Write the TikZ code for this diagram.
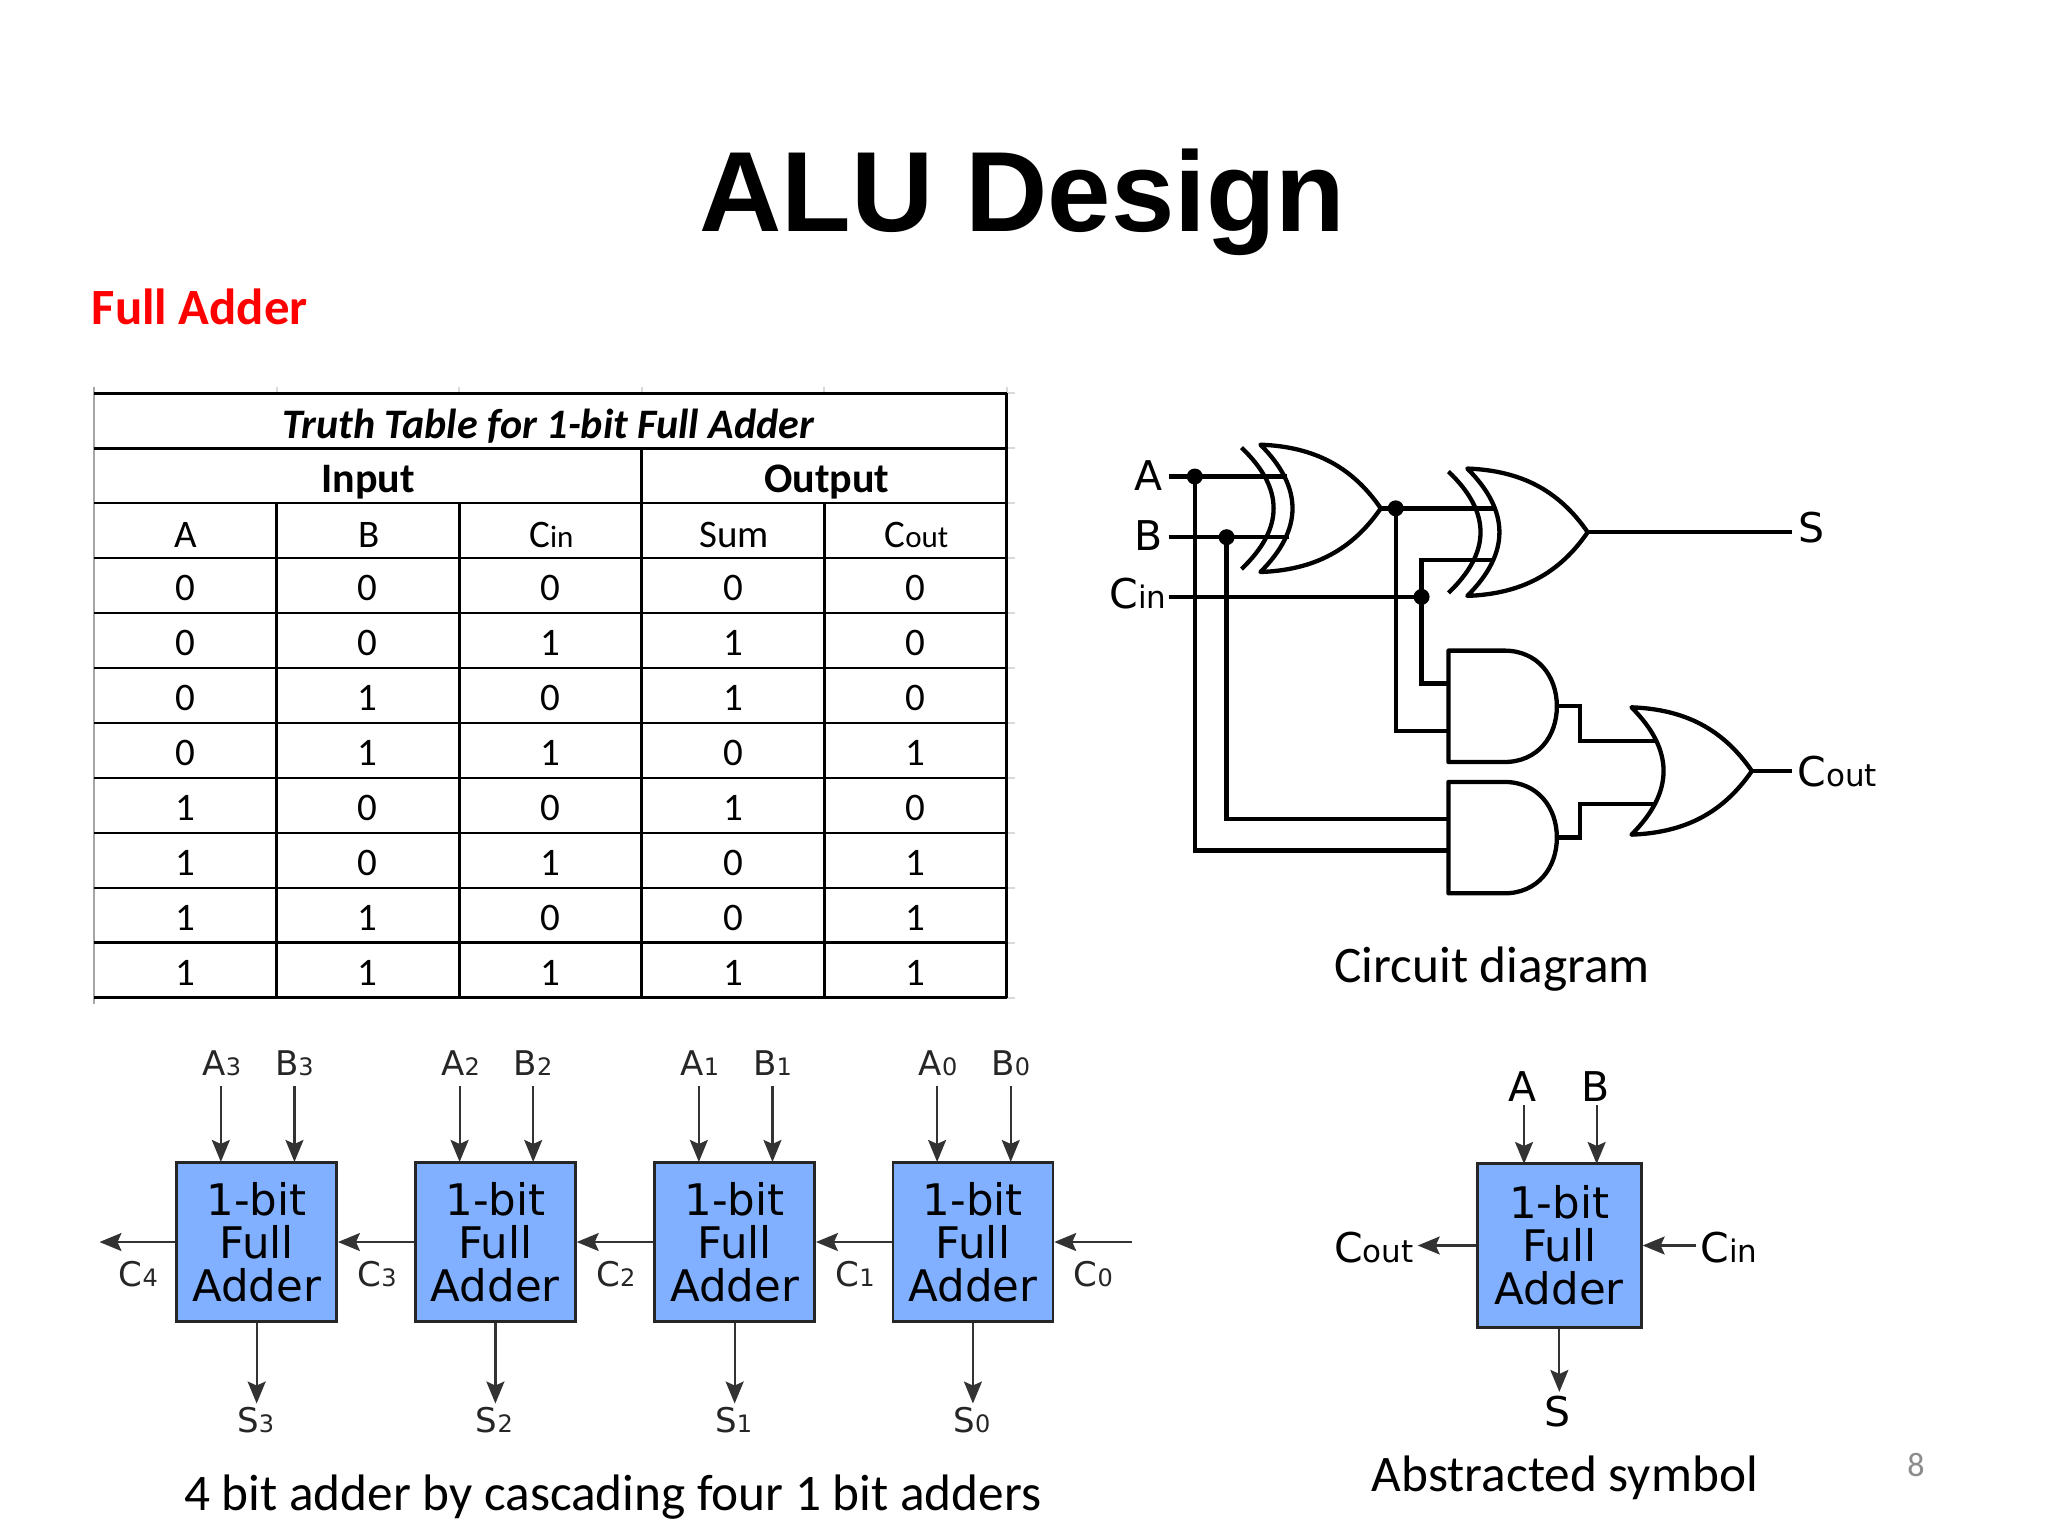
\documentclass[tikz,border=0pt]{standalone}
\usepackage{fontspec}
\usetikzlibrary{arrows.meta}
\setmainfont{Carlito}
\newfontfamily\dejavu{DejaVu Sans}
\newfontfamily\arialbold[BoldFont={Liberation Sans Bold}]{Liberation Sans}
\newcommand{\subtxt}[2]{{\fontsize{#1}{#1}\selectfont #2}}
\definecolor{adderblue}{RGB}{128,176,255}
\tikzset{
  wire/.style={line width=4.3pt},
  gate/.style={line width=4.3pt, line join=round},
  jdot/.style={fill=black},
  gridline/.style={line width=2.8pt},
  tblcell/.style={font=\fontsize{39}{39}\selectfont, inner sep=0pt},
  tblhead/.style={font=\bfseries\fontsize{42}{42}\selectfont, inner sep=0pt},
  caption/.style={font=\fontsize{51.3}{51.3}\selectfont, inner sep=0pt},
  adderbox/.style={draw=black!85, line width=2.6pt, fill=adderblue, inner sep=0pt, align=center,
    minimum width=160pt, minimum height=159.5pt, font=\dejavu\fontsize{43.5}{43}\selectfont},
  siglabel/.style={font=\dejavu\fontsize{34}{34}\selectfont, text=black!85, inner sep=4pt},
  symlabel/.style={font=\dejavu\fontsize{41}{41}\selectfont, inner sep=4pt},
  sigarrow/.style={-{Stealth[length=22pt,width=18pt,inset=4pt]}, line width=2.2pt, draw=black!80},
  orgate/.pic={
    \draw[gate] (0,-64) .. controls (54,-62) and (92,-42) .. (121,0)
      .. controls (92,42) and (54,62) .. (0,64)
      .. controls (43,21) and (43,-21) .. cycle;
  },
  xorgate/.pic={
    \pic {orgate};
    \draw[gate] (-19,-61) .. controls (24,-20) and (24,20) .. (-19,61);
  },
  andgate/.pic={
    \draw[gate] (0,-56) -- (56,-56) .. controls (90,-56) and (109,-30) .. (109,0)
      .. controls (109,30) and (90,56) .. (56,56) -- (0,56) -- cycle;
  }
}
\begin{document}
\begin{tikzpicture}[x=0.9948pt,y=-0.9948pt]
  \path[fill=white] (0,0) rectangle (2058.7,1544);

  % Title
  \node[font=\arialbold\bfseries\fontsize{114}{114}\selectfont, inner sep=0pt] (title) at (1028,203.5) {ALU Design};
  \node[font=\bfseries\fontsize{50.8}{50.8}\selectfont, text=red, inner sep=0pt, anchor=west] (heading) at (92,308) {Full Adder};

  % Table lines
  \draw[black!35, line width=2pt] (94.5,389) -- (94.5,1009);
  \foreach \c in {1,...,5}
    \draw[black!15, line width=2pt] ({94.5+183.5*\c},389) -- ({94.5+183.5*\c},395);
  \foreach \r in {0,...,11} {
    \draw[black!15, line width=2pt] (1012,{395.2+55.26*\r}) -- (1020,{395.2+55.26*\r});
    \draw[gridline] (94.5,{395.2+55.26*\r}) -- (1012,{395.2+55.26*\r});
  }
  \draw[gridline] (1012,395.2) -- (1012,1003);
  \draw[gridline] (645,450.5) -- (645,1003);
  \foreach \c in {1,2,4}
    \draw[gridline] ({94.5+183.5*\c},506) -- ({94.5+183.5*\c},1003);

  % Table text
  \node[font=\bfseries\itshape\fontsize{42}{42}\selectfont, inner sep=0pt] (tbltitle) at (551,428) {Truth Table for 1-bit Full Adder};
  \node[tblhead] (tblinput) at (370,485) {Input};
  \node[tblhead] (tbloutput) at (831,485) {Output};
  \node[tblcell] (heada) at (187.25,538) {A};
  \node[tblcell] (headb) at (370.75,538) {B};
  \node[tblcell] (headc) at (554.25,538) {C\subtxt{31}{in}};
  \node[tblcell] (heads) at (737.75,538) {Sum};
  \node[tblcell] (headk) at (921.25,538) {C\subtxt{31}{out}};
  \foreach \ra/\rb/\rc/\rs/\rk [count=\r from 0] in
      {0/0/0/0/0,0/0/1/1/0,0/1/0/1/0,0/1/1/0/1,1/0/0/1/0,1/0/1/0/1,1/1/0/0/1,1/1/1/1/1} {
    \pgfmathsetmacro\yc{398+55.26*(\r+3.5)}
    \foreach \v/\n [count=\c from 0] in {\ra/a,\rb/b,\rc/c,\rs/s,\rk/k}
      \node[tblcell] (cell\r\n) at ({186.25+183.5*\c},\yc) {\v};
  }

  % Gates
  \pic at (1267,511) {xorgate};
  \pic at (1475,535) {xorgate};
  \pic at (1456,710) {andgate};
  \pic at (1456,842) {andgate};
  \pic at (1640,775) {orgate};

  % Wire points
  \node[symlabel] (lbla) at (1155,478) {A};
  \node[symlabel] (lblb) at (1155,538) {B};
  \node[symlabel] (lblc) at (1144,597) {C\subtxt{31}{in}};
  \node[symlabel] (lbls) at (1821,530) {S};
  \node[symlabel] (lblk) at (1847,776) {C\subtxt{31}{out}};
  \coordinate (ain) at (1175,479);
  \coordinate (bin) at (1175,540);
  \coordinate (cin) at (1175,600);
  \coordinate (adot) at (1201,479);
  \coordinate (bdot) at (1233,540);
  \coordinate (cdot) at (1429,600);
  \coordinate (xdot) at (1403,511);
  \coordinate (xonea) at (1294,479);
  \coordinate (xoneb) at (1296,540);
  \coordinate (xoneo) at (1388,511);
  \coordinate (xtwoa) at (1504,511);
  \coordinate (xtwob) at (1501,563);
  \coordinate (xtwoo) at (1596,535);
  \coordinate (sout) at (1801,535);
  \coordinate (anda) at (1456,687);
  \coordinate (andb) at (1456,735);
  \coordinate (andc) at (1456,823);
  \coordinate (andd) at (1456,855);
  \coordinate (andao) at (1565,710);
  \coordinate (andbo) at (1565,842);
  \coordinate (ora) at (1665,745);
  \coordinate (orb) at (1665,808);
  \coordinate (oro) at (1761,775);
  \coordinate (kout) at (1801,775);

  % Wires
  \draw[wire] (ain) -- (xonea);
  \draw[wire] (bin) -- (xoneb);
  \draw[wire] (cin) -- (cdot);
  \draw[wire] (xoneo) -- (xtwoa);
  \draw[wire] (xtwoo) -- (sout);
  \draw[wire] (oro) -- (kout);
  \draw[wire] (adot) |- (andd);
  \draw[wire] (bdot) |- (andc);
  \draw[wire] (xdot) |- (andb);
  \draw[wire] (cdot) |- (xtwob);
  \draw[wire] (cdot) |- (anda);
  \draw[wire] (andao) -- ++(23,0) |- (ora);
  \draw[wire] (andbo) -- ++(23,0) |- (orb);
  \foreach \d in {adot,bdot,cdot,xdot}
    \fill[jdot] (\d) circle (8pt);

  \node[caption] (circcap) at (1500,974) {Circuit diagram};

  % 4 bit adder
  \foreach \i/\x in {3/258,2/498,1/738.5,0/978} {
    \node[adderbox] (adder\i) at (\x,1248.5) {1-bit\\Full\\Adder};
    \node[siglabel] (lbla\i) at ({\x-35},1069) {A\subtxt{24}{\i}};
    \node[siglabel] (lblb\i) at ({\x+38},1069) {B\subtxt{24}{\i}};
    \node[siglabel] (lbls\i) at ({\x-1},1428) {S\subtxt{24}{\i}};
    \node[siglabel] (lblc\i) at ({\x+121},1281) {C\subtxt{24}{\i}};
    \draw[sigarrow] ({\x-36},1092) -- ({\x-36},1168);
    \draw[sigarrow] ({\x+38},1092) -- ({\x+38},1168);
    \draw[sigarrow] (adder\i.south) -- (adder\i.south |- lbls\i.north);
  }
  \node[siglabel] (lblcfour) at (139,1281) {C\subtxt{24}{4}};
  \coordinate (cfour) at (100,1248.5);
  \coordinate (czero) at (1138,1248.5);
  \draw[sigarrow] (adder3.west) -- (cfour);
  \draw[sigarrow] (adder2.west) -- (adder3.east);
  \draw[sigarrow] (adder1.west) -- (adder2.east);
  \draw[sigarrow] (adder0.west) -- (adder1.east);
  \draw[sigarrow] (czero) -- (adder0.east);
  \node[caption] (fourcap) at (616,1505) {4 bit adder by cascading four 1 bit adders};

  % Symbol
  \node[adderbox, minimum width=164pt, minimum height=164pt] (absadder) at (1567.5,1252) {1-bit\\Full\\Adder};
  \node[symlabel] (absa) at (1530,1092) {A};
  \node[symlabel] (absb) at (1604,1092) {B};
  \node[symlabel] (abss) at (1566,1419) {S};
  \node[symlabel] (abscout) at (1381,1254) {C\subtxt{31}{out}};
  \node[symlabel] (abscin) at (1738,1254) {C\subtxt{31}{in}};
  \draw[sigarrow] (1532,1111) -- (1532,1170);
  \draw[sigarrow] (1605,1111) -- (1605,1170);
  \draw[sigarrow] (absadder.south) -- (absadder.south |- abss.north);
  \draw[sigarrow] (absadder.west) -- (abscout.east |- absadder.west);
  \draw[sigarrow] (abscin.west |- absadder.east) -- (absadder.east);
  \node[caption] (abscap) at (1573,1486) {Abstracted symbol};

  \node[font=\fontsize{34}{34}\selectfont, text=black!45, inner sep=0pt] (pagenum) at (1926,1473) {8};
\end{tikzpicture}
\end{document}
